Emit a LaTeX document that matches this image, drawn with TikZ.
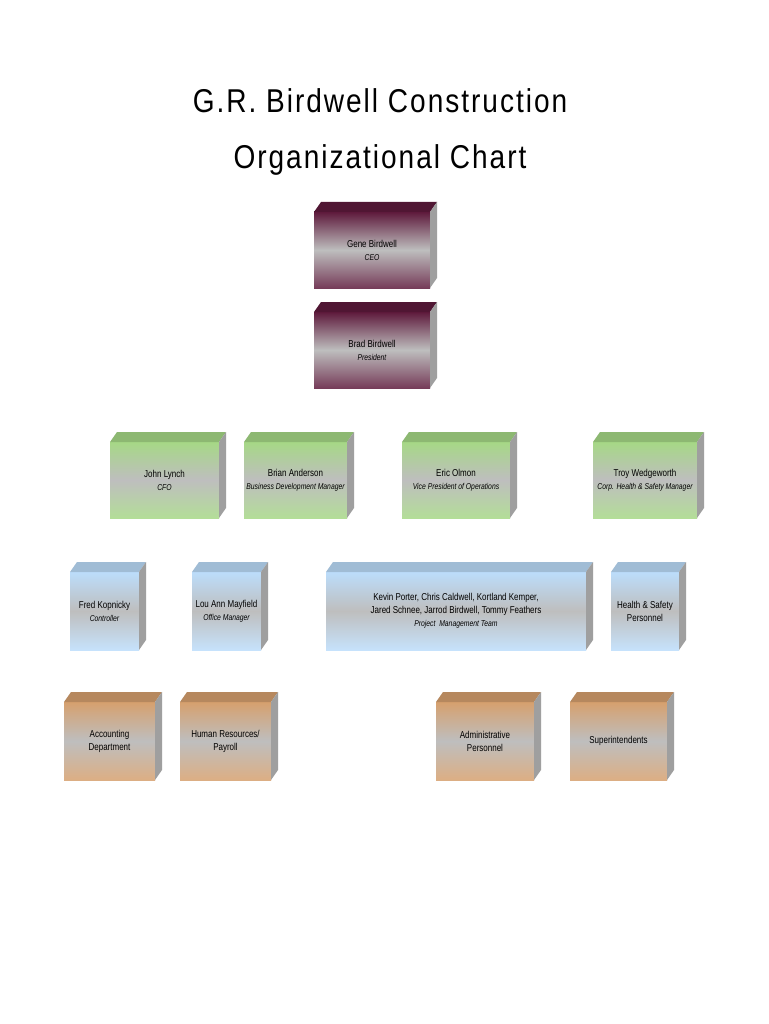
\documentclass[tikz,border=0pt]{standalone}
\usepackage{fontspec}
\setmainfont{Liberation Sans}[FakeStretch=0.8]
\newfontfamily\titlefont{Liberation Sans}[FakeStretch=0.85,LetterSpace=6]
\usetikzlibrary{backgrounds}
\definecolor{maroon}{HTML}{5E1A3C}
\definecolor{leaf}{HTML}{A6D886}
\definecolor{sky}{HTML}{BCDDFB}
\definecolor{clay}{HTML}{D6A06E}
\definecolor{mid}{HTML}{BEBEBE}
\definecolor{wire}{HTML}{7F7F7F}
\tikzset{
  box/.style={inner sep=0pt, outer sep=0pt, align=center, font=\fontsize{10}{13}\selectfont,
    top color=#1, bottom color=#1!85!white, middle color=mid},
  role/.style={font=\fontsize{8.5}{11}\selectfont\itshape},
  link/.style={draw=wire, line width=2.6pt}
}
\newcommand{\sub}[1]{{\fontsize{8.5}{11}\selectfont\itshape #1}}
\begin{document}
\begin{tikzpicture}[x=1pt, y=-1pt]
\useasboundingbox[fill=white] (0,0) rectangle (768,1024);
% Title
\node[font=\titlefont\fontsize{33}{56}\selectfont, align=center] (title) at (380,132)
  {G.R. Birdwell Construction\\Organizational Chart};

% Top levels
\node[box=maroon, minimum width=116pt, minimum height=76pt] (gene) at (372,250) {Gene Birdwell\\\sub{CEO}};
\node[box=maroon, minimum width=116pt, minimum height=76pt] (brad) at (372,350) {Brad Birdwell\\\sub{President}};

% Second row left to right
\node[box=leaf, minimum width=109pt, minimum height=76pt] (john) at (164.5,480) {John Lynch\\\sub{CFO}};
\node[box=leaf, minimum width=103pt, minimum height=76pt] (brian) at (295.5,480) {Brian Anderson\\\sub{Business Development Manager}};
\node[box=leaf, minimum width=108pt, minimum height=76pt] (eric) at (456,480) {Eric Olmon\\\sub{Vice President of Operations}};
\node[box=leaf, minimum width=104pt, minimum height=76pt] (troy) at (645,480) {Troy Wedgeworth\\\sub{Corp. Health \& Safety Manager}};

% Third row left to right
\node[box=sky, minimum width=69pt, minimum height=78pt] (fred) at (104.5,611) {Fred Kopnicky\\\sub{Controller}};
\node[box=sky, minimum width=69pt, minimum height=78pt] (lou) at (226.5,611) {Lou Ann Mayfield\\\sub{Office Manager}};
\node[box=sky, minimum width=260pt, minimum height=78pt] (kevin) at (456,611) {Kevin Porter, Chris Caldwell, Kortland Kemper,\\Jared Schnee, Jarrod Birdwell, Tommy Feathers\\\sub{Project\ \ Management Team}};
\node[box=sky, minimum width=68pt, minimum height=78pt] (health) at (645,611) {Health \& Safety\\Personnel};

% Fourth row left to right
\node[box=clay, minimum width=91pt, minimum height=78pt] (acct) at (109.5,741) {Accounting\\Department};
\node[box=clay, minimum width=91pt, minimum height=78pt] (hr) at (225.5,741) {Human Resources/\\Payroll};
\node[box=clay, minimum width=98pt, minimum height=78pt] (admin) at (485,741) {Administrative\\Personnel};
\node[box=clay, minimum width=97pt, minimum height=78pt] (super) at (618.5,741) {Superintendents};

% Top and side faces
\foreach \n/\c in {gene/maroon, brad/maroon, john/leaf, brian/leaf, eric/leaf, troy/leaf,
  fred/sky, lou/sky, kevin/sky, health/sky, acct/clay, hr/clay, admin/clay, super/clay} {
  \fill[\c!85!black] (\n.north west) -- ([shift={(7,-10)}]\n.north west)
    -- ([shift={(7,-10)}]\n.north east) -- (\n.north east) -- cycle;
  \fill[gray!75] (\n.north east) -- ([shift={(7,-10)}]\n.north east)
    -- ([shift={(7,-10)}]\n.south east) -- (\n.south east) -- cycle;
}

% Connectors
\begin{scope}[on background layer]
\draw[link] (gene.south) -- (brad.north);
\draw[link] (brad.south) -- ++(0,14) coordinate (bus);
\draw[link] (john.north) |- (bus) -| (troy.north);
\draw[link] (brian.north) |- (bus);
\draw[link] (eric.north) |- (bus);
\draw[link] (eric.east) -- (troy.west);
\draw[link] (john.south) -- (john.south |- fred.east);
\draw[link] (fred.east) -- (lou.west);
\draw[link] (eric.south) -- (kevin.north);
\draw[link] (troy.south) -- (health.north);
\draw[link] (kevin.east) -- (health.west);
\draw[link] (kevin.south) -- ++(0,30) coordinate (low) -| (health.south);
\draw[link] (admin.north) ++(7,0) |- (low);
\draw[link] (super.north) ++(7,0) |- (low);
\draw[link] (admin.east) -- (super.west);
\draw[link] (fred.south) ++(5,0) -- ++(0,42);
\draw[link] (lou.south) -- (hr.north);
\end{scope}
\end{tikzpicture}
\end{document}
